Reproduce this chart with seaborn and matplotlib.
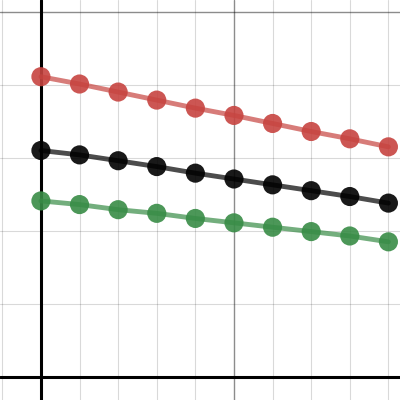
import matplotlib
matplotlib.use("Agg")
import matplotlib.pyplot as plt
import seaborn as sns
import pandas as pd

x = [0, 1, 2, 3, 4, 5, 6, 7, 8, 9]
red = [4.11, 4.01, 3.90, 3.79, 3.68, 3.58, 3.47, 3.36, 3.26, 3.15]
black = [3.10, 3.04, 2.96, 2.88, 2.79, 2.71, 2.63, 2.55, 2.47, 2.38]
green = [2.41, 2.36, 2.29, 2.24, 2.17, 2.11, 2.05, 1.99, 1.93, 1.85]

sns.set_style("white")
fig = plt.figure(figsize=(4, 4), dpi=100)
ax = fig.add_axes([0, 0, 1, 1])
xmin, xmax, ymin, ymax = -1.06, 9.30, -0.315, 5.16
ax.set_xlim(xmin, xmax); ax.set_ylim(ymin, ymax)
for gx in range(-1, 10):
    ax.axvline(gx, color="#000", lw=0.8 if gx != 5 else 1.0, alpha=0.15 if gx != 5 else 0.45, zorder=0)
for gy in range(0, 6):
    ax.axhline(gy, color="#000", lw=0.8 if gy != 5 else 1.0, alpha=0.15 if gy != 5 else 0.45, zorder=0)
ax.axvline(0, color="black", lw=2.2, zorder=1)
ax.axhline(0, color="black", lw=2.2, zorder=1)

df = pd.DataFrame({"x": x * 3, "y": red + black + green,
                   "s": ["r"] * 10 + ["k"] * 10 + ["g"] * 10})
pal = {"r": "#c74440", "k": "#000000", "g": "#388c46"}
sns.lineplot(data=df, x="x", y="y", hue="s", palette=pal, lw=3.5, alpha=0.7, legend=False, ax=ax, zorder=2)
sns.scatterplot(data=df, x="x", y="y", hue="s", palette=pal, s=190, alpha=0.9, linewidth=0, legend=False, ax=ax, zorder=3)
ax.set_xticks([]); ax.set_yticks([])
ax.set_xlabel(""); ax.set_ylabel("")
for sp in ax.spines.values():
    sp.set_visible(False)
fig.savefig("out.png", dpi=100)
